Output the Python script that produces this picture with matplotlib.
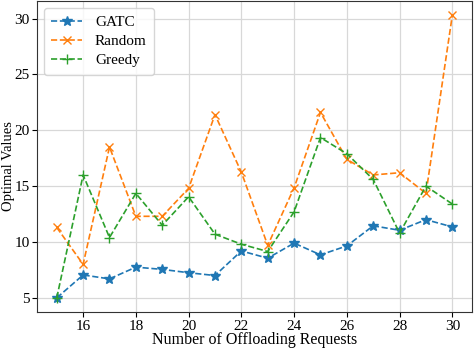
import matplotlib
matplotlib.use("Agg")
import matplotlib.pyplot as plt

plt.rcParams['font.family'] = ['Liberation Serif', 'DejaVu Serif']

requests = list(range(15, 31))
gatc = [5.0, 7.05, 6.7, 7.75, 7.55, 7.25, 7.0, 9.2, 8.55, 9.9, 8.85, 9.65, 11.45, 11.05, 12.0, 11.35]
rand = [11.3, 8.0, 18.5, 12.3, 12.3, 14.8, 21.4, 16.25, 9.7, 14.85, 21.6, 17.4, 16.0, 16.2, 14.35, 30.3]
greedy = [5.0, 16.0, 10.4, 14.35, 11.5, 14.05, 10.7, 9.8, 9.15, 12.7, 19.35, 17.9, 15.6, 10.8, 15.0, 13.4]

fig = plt.figure(figsize=(4.74, 3.49), dpi=100)
ax = fig.add_axes([0.078, 0.106, 0.918, 0.891])

ax.plot(requests, gatc, '--', marker='*', color='#1f77b4', markersize=7, linewidth=1.2, label='GATC')
ax.plot(requests, rand, '--', marker='x', color='#ff7f0e', markersize=6, linewidth=1.2, label='Random')
ax.plot(requests, greedy, '--', marker='+', color='#2ca02c', markersize=7, linewidth=1.2, label='Greedy')

ax.set_xticks(range(16, 31, 2))
ax.set_yticks([5, 10, 15, 20, 25, 30])
ax.tick_params(labelsize=11)
ax.tick_params(axis='x', pad=2.5)
ax.tick_params(axis='y', pad=1.8)
ax.grid(True, color='#d8d8d8', linewidth=0.9)
ax.set_axisbelow(True)
for s in ax.spines.values():
    s.set_color('#333333')

ax.set_xlabel('Number of Offloading Requests', fontsize=11.5, labelpad=-1)
ax.set_ylabel('Optimal Values', fontsize=10.5)
ax.yaxis.set_label_coords(-0.05, 0.47)
ax.legend(loc='upper left', fontsize=11, handlelength=2.0, handletextpad=0.85,
          borderpad=0.5, labelspacing=0.35, borderaxespad=0.45)

fig.savefig('out.png', dpi=100)
